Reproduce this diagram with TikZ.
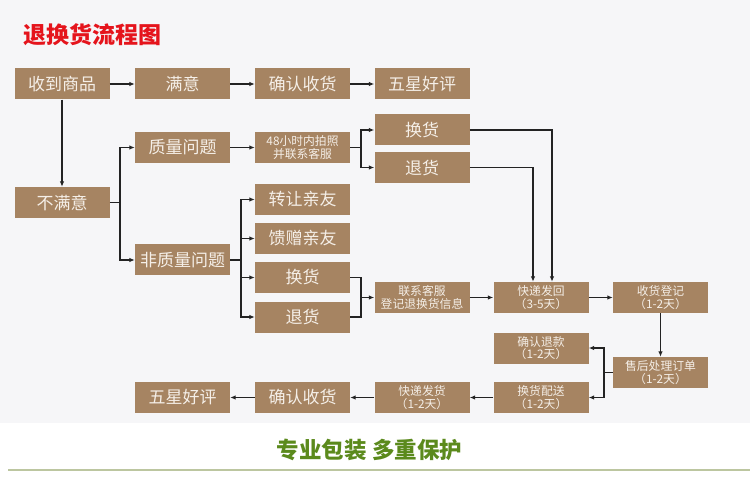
\documentclass[tikz,border=0pt]{standalone}
\usepackage{fontspec}
\setmainfont{Noto Sans CJK SC}
\usetikzlibrary{arrows.meta,positioning,calc}

\definecolor{boxbrown}{HTML}{A68462}
\definecolor{boxtext}{HTML}{F5EFE8}
\definecolor{linedark}{HTML}{232323}
\definecolor{titlered}{HTML}{E5141C}
\definecolor{slogangreen}{HTML}{5B8A1C}
\definecolor{rulegreen}{HTML}{BCC6A0}
\definecolor{canvasgray}{HTML}{F6F6F8}

\begin{document}
\begin{tikzpicture}[x=1pt, y=-1pt,
		stepbox/.style={fill=boxbrown, text=boxtext, minimum width=95pt, minimum height=31pt,
			inner sep=0pt, font=\fontsize{17}{18}\selectfont},
		smallbox/.style={stepbox, align=center, font=\fontsize{11.8}{12.5}\selectfont},
		link/.style={line width=1.2pt, draw=linedark},
		arr/.style={link, -{Latex[length=5.5pt,width=4.5pt]}}]

		% === canvas bounds ===
		\def\W{750}	\def\H{481}
		\def\graybot{423}
		\useasboundingbox (0,0) rectangle (\W,\H);
		\fill[white] (0,0) rectangle (\W,\H);
		\fill[canvasgray] (0,0) rectangle (\W,\graybot);

		% === column / row positions ===
		\def\ca{62}	\def\cb{182.5}	\def\cc{302.5}
		\def\cd{422}	\def\ce{541}	\def\cf{660.5}

		% === title ===
		\node[font=\fontsize{23}{24}\selectfont\bfseries, text=titlered, anchor=west] (title) at (20,35) {退换货流程图};

		% === top row ===
		\node[stepbox] (get)   at (\ca,84) {收到商品};
		\node[stepbox] (ok)    at (\cb,84) {满意};
		\node[stepbox] (conf)  at (\cc,84) {确认收货};
		\node[stepbox] (star)  at (\cd,84) {五星好评};

		% === quality branch ===
		\node[stepbox]  (bad)   at (\ca,202.5) {不满意};
		\node[stepbox]  (qual)  at (\cb,147.5) {质量问题};
		\node[smallbox] (photo) at (\cc,147.5) {48小时内拍照\\并联系客服};
		\node[stepbox]  (exa)   at (\cd,130)   {换货};
		\node[stepbox]  (reta)  at (\cd,167.5) {退货};

		% === non-quality branch ===
		\node[stepbox] (nonq)  at (\cb,260)   {非质量问题};
		\node[stepbox] (give)  at (\cc,199.5) {转让亲友};
		\node[stepbox] (gift)  at (\cc,238.5) {馈赠亲友};
		\node[stepbox] (exb)   at (\cc,277.5) {换货};
		\node[stepbox] (retb)  at (\cc,317)   {退货};

		% === return / refund chain ===
		\node[smallbox] (contact) at (\cd,297.5) {联系客服\\登记退换货信息};
		\node[smallbox] (back)    at (\ce,297.5) {快递发回\\（3-5天）};
		\node[smallbox] (recv)    at (\cf,297.5) {收货登记\\（1-2天）};
		\node[smallbox] (refund)  at (\ce,348)   {确认退款\\（1-2天）};
		\node[smallbox] (after)   at (\cf,372.5) {售后处理订单\\（1-2天）};
		\node[smallbox] (resend)  at (\ce,397.5) {换货配送\\（1-2天）};
		\node[smallbox] (ship)    at (\cd,397.5) {快递发货\\（1-2天）};
		\node[stepbox]  (confb)   at (\cc,397.5) {确认收货};
		\node[stepbox]  (starb)   at (\cb,397.5) {五星好评};

		% === split points ===
		\coordinate (badsplit)   at (120,202.5);
		\coordinate (photosplit) at (361,147.5);
		\coordinate (nonqsplit)  at (241,260);
		\coordinate (mergeb)     at (361,297.5);
		\coordinate (aftersplit) at (604,372.5);

		% === connectors ===
		\draw[arr] (get) -- (ok);
		\draw[arr] (ok) -- (conf);
		\draw[arr] (conf) -- (star);
		\draw[arr] (get.south) -- (get.south |- bad.north);

		\draw[link] (bad.east) -- (badsplit);
		\draw[arr] (badsplit) |- (qual.west);
		\draw[arr] (badsplit) |- (nonq.west);
		\draw[arr] (qual) -- (photo);

		\draw[link] (photo.east) -- (photosplit);
		\draw[arr] (photosplit) |- (exa.west);
		\draw[arr] (photosplit) |- (reta.west);
		\draw[arr] (exa.east) -| ([xshift=11pt]back.north);
		\draw[arr] (reta.east) -| ([xshift=-8pt]back.north);

		\draw[link] (nonq.east) -- (nonqsplit);
		\foreach \n in {give, gift, exb, retb}
			\draw[arr] (nonqsplit) |- (\n.west);	% four choices

		\draw[link] (exb.east) -| (mergeb) |- (retb.east);
		\draw[arr] (mergeb) -- (contact.west);
		\draw[arr] (contact) -- (back);
		\draw[arr] (back) -- (recv);
		\draw[arr] (recv) -- (after);

		\draw[link] (after.west) -- (aftersplit);
		\draw[arr] (aftersplit) |- (refund.east);
		\draw[arr] (aftersplit) |- (resend.east);
		\draw[arr] (resend) -- (ship);
		\draw[arr] (ship) -- (confb);
		\draw[arr] (confb) -- (starb);

		% === slogan ===
		\node[font=\fontsize{22.5}{24}\selectfont\bfseries, text=slogangreen] (slogan) at (369.5,450) {专业包装 多重保护};
		\draw[rulegreen, line width=2pt] (8,470) -- (\W,470);
	\end{tikzpicture}
\end{document}
